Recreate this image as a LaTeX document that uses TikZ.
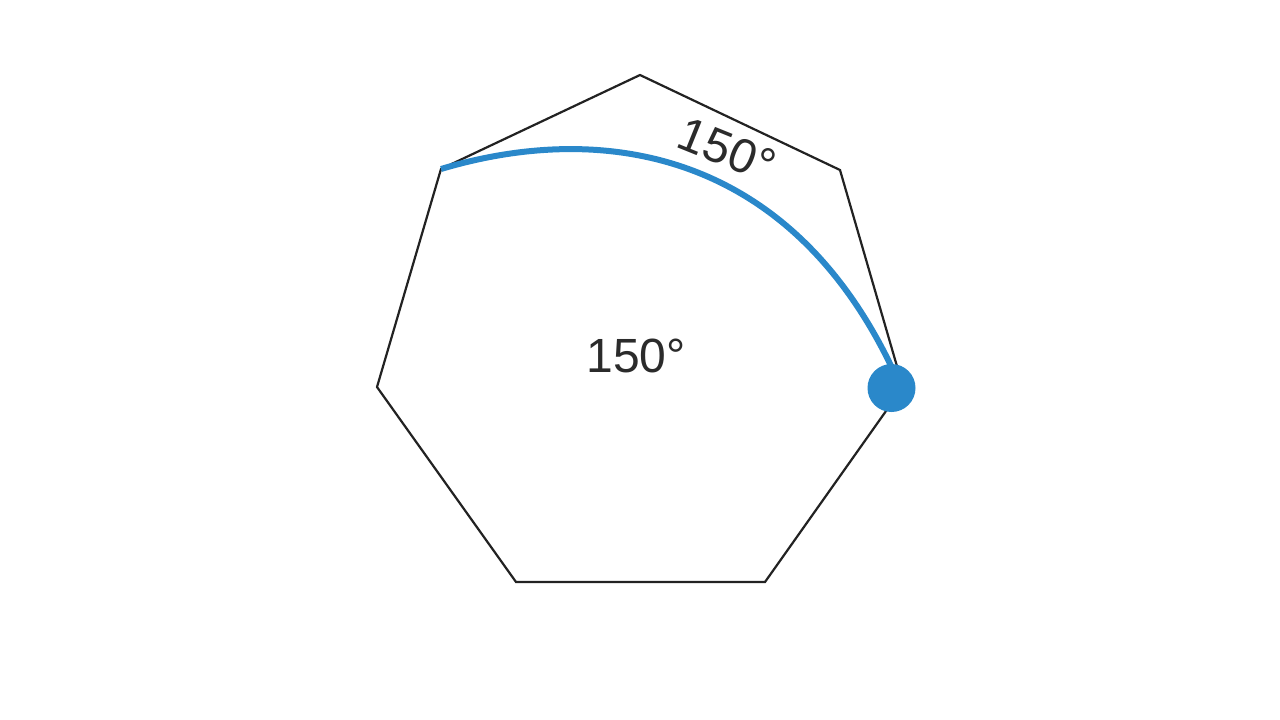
\documentclass[tikz,border=0pt]{standalone}
\usepackage{fontspec}
\setmainfont{Liberation Sans}
\definecolor{arcblue}{HTML}{2A88CA}
\definecolor{edgecol}{HTML}{222222}
\definecolor{txtcol}{HTML}{2B2B2B}
\begin{document}
\begin{tikzpicture}[x=1pt,y=-1pt,
  edgeline/.style={draw=edgecol,line width=2.2pt,line join=miter},
  arcline/.style={draw=arcblue,line width=6pt},
  anglelabel/.style={text=txtcol,inner sep=0pt,font=\fontsize{48}{56}\selectfont},
  dotnode/.style={circle,fill=arcblue,minimum size=48pt,inner sep=0pt}]
\useasboundingbox (0,0) rectangle (1280,720);
\fill[white] (0,0) rectangle (1280,720);
\coordinate (v0) at (640,75);
\coordinate (v1) at (840,170);
\coordinate (v2) at (903,387);
\coordinate (v3) at (765,582);
\coordinate (v4) at (516,582);
\coordinate (v5) at (377,387);
\coordinate (v6) at (441,169);
\coordinate (arcend) at (893,370);
\draw[edgeline] (v0) -- (v1) -- (v2) -- (v3) -- (v4) -- (v5) -- (v6) -- cycle;
\draw[arcline] (v6) .. controls (612,118) and (793,158) .. (arcend);
\node[dotnode] (dot) at (891.5,388) {};
\node[anglelabel] (center) at (636,356) {150°};
\node[anglelabel,rotate=-22] (toplabel) at (727,150) {150°};
\end{tikzpicture}
\end{document}
